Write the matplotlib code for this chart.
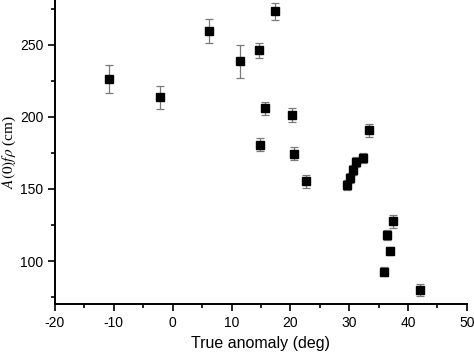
import matplotlib.pyplot as plt
from matplotlib.ticker import MultipleLocator

# Data
anomaly = [-10.9, -2.1, 6.25, 11.4, 14.6, 17.4, 15.7, 20.2, 14.9, 20.7, 22.7,
           33.3, 29.6, 30.2, 30.7, 31.2, 32.3, 37.5, 36.5, 37.0, 35.9, 42.0]
afrho = [226.2, 213.7, 259.7, 238.4, 246.0, 273.1, 205.8, 201.2, 180.6, 174.5, 155.3,
         190.7, 153.0, 157.4, 163.4, 168.5, 171.3, 127.6, 118.0, 106.9, 92.6, 79.9]
errors = [10.0, 8.0, 8.3, 11.7, 5.3, 5.7, 4.5, 5.0, 4.6, 4.4, 4.5,
          4.4, 3.5, 3.5, 3.5, 3.5, 3.5, 4.4, 3.5, 3.0, 3.0, 4.0]

plt.rcParams['font.family'] = 'Liberation Sans'
plt.rcParams['mathtext.fontset'] = 'stix'
plt.rcParams['axes.unicode_minus'] = False

fig = plt.figure(figsize=(4.74, 3.53), dpi=100)
ax = fig.add_axes([0.116, 0.138, 0.869, 0.862])

ax.errorbar(anomaly, afrho, yerr=errors, fmt='s', color='black', markersize=5.8,
            ecolor='#7a7a7a', elinewidth=0.9, capsize=3, capthick=0.9)

ax.set_xlim(-20, 50)
ax.set_ylim(70, 281)
ax.xaxis.set_major_locator(MultipleLocator(10))
ax.xaxis.set_minor_locator(MultipleLocator(5))
ax.yaxis.set_major_locator(MultipleLocator(50))
ax.yaxis.set_minor_locator(MultipleLocator(25))

ax.spines['top'].set_visible(False)
ax.spines['right'].set_visible(False)
ax.spines['left'].set_linewidth(1.4)
ax.spines['bottom'].set_linewidth(1.4)
ax.tick_params(which='major', length=5, width=1.2, labelsize=10)
ax.tick_params(which='minor', length=3, width=1.2)

ax.set_xlabel('True anomaly (deg)', fontsize=11.5)
ax.set_ylabel(r'$A(0)f\rho$ (cm)', fontsize=11, family='Liberation Serif')
ax.yaxis.set_label_coords(-0.09, 0.5)

fig.savefig('out.png', dpi=100)
